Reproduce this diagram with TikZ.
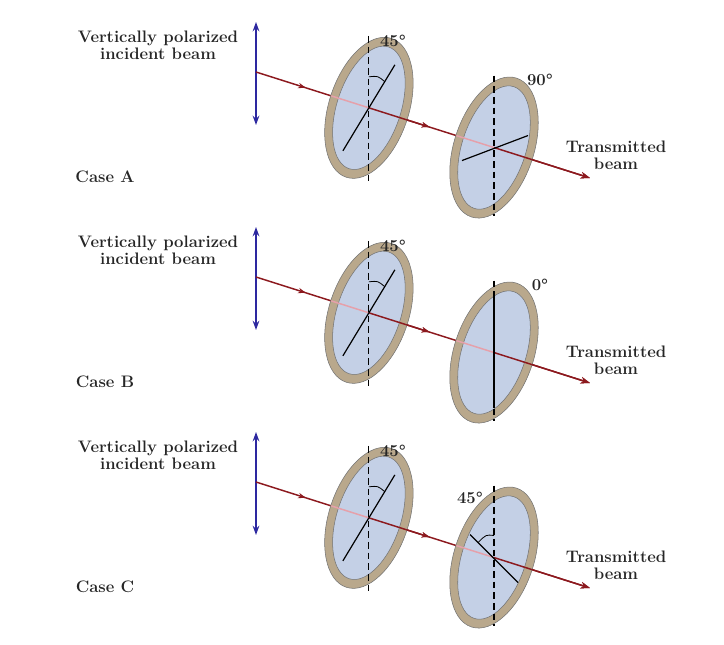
\documentclass[tikz,border=0pt]{standalone}
\usetikzlibrary{calc,arrows.meta,decorations.markings}
\begin{document}
\begin{tikzpicture}[x=0.75pt,y=-0.75pt,
label/.style={
% text of the figure
font=\fontsize{12.5}{13}\selectfont\bfseries,
text=black!85,
align=center,
inner sep=0pt
},
ray/.style={
draw={rgb,255:red,140;green,25;blue,30},
line width=1.1pt
},
beam/.style={
ray,
-{Stealth[length=7pt,width=5pt]},
postaction={decorate},
decoration={markings,
mark=at position 0.15 with {\arrow{Stealth[length=6pt,width=4pt]}},
mark=at position 0.52 with {\arrow{Stealth[length=6pt,width=4pt]}}}
},
seen/.style={draw={rgb,255:red,230;green,160;blue,170},line width=1.1pt},
ring/.style={fill={rgb,255:red,185;green,168;blue,140},draw=black!55,line width=0.4pt},
glass/.style={fill={rgb,255:red,196;green,208;blue,230},draw=black!55,line width=0.4pt},
axis/.style={draw=black,line width=0.9pt},
normal/.style={draw=black,line width=0.9pt,dash pattern=on 5pt off 3pt},
field/.style={draw={rgb,255:red,45;green,40;blue,160},line width=1.6pt,
{Stealth[length=7pt,width=5pt]}-{Stealth[length=7pt,width=5pt]}}
]
\useasboundingbox (0,0) rectangle (724,644);
\foreach \dy/\case/\ax/\ay/\bx/\by/\ang in {
0/A/34/-12/-32/13/90\textdegree,
205/B/0/-55/0/55/0\textdegree,
410/C/-24/-23/24/25/45\textdegree}{
\begin{scope}[yshift=-\dy*0.75pt]
% incident field and beam
\draw[field] (256,22) coordinate (top\case) -- (256,125) coordinate (bot\case);
\coordinate (start\case) at (256,72);
\coordinate (end\case) at (590,178);
\coordinate (p\case) at ($(start\case)!0.338!(end\case)$);
\coordinate (q\case) at ($(start\case)!0.7126!(end\case)$);
\draw[beam] (start\case) -- (end\case);
% polarizers
\foreach \c in {p\case,q\case}{
\path[ring] (\c) ellipse[x radius=40,y radius=73,rotate=-18];
\path[glass] (\c) ellipse[x radius=32,y radius=64,rotate=-18];
}
\draw[seen] ($(start\case)!0.225!(end\case)$) -- (p\case);
\draw[seen] ($(start\case)!0.60!(end\case)$) -- (q\case);
\draw[ray,-{Stealth[length=6pt,width=4pt]}] (p\case) -- ($(start\case)!0.52!(end\case)$);
\draw[ray,-{Stealth[length=7pt,width=5pt]}] (q\case) -- (end\case);
% transmission axes
\draw[axis] ($(p\case)+(26,-43)$) -- ($(p\case)+(-26,43)$);
\draw[line width=0.6pt] ($(p\case)+(0,-31)$) .. controls ($(p\case)+(9,-32)$) .. ($(p\case)+(16,-26)$);
\draw[axis] ($(q\case)+(\ax,\ay)$) -- ($(q\case)+(\bx,\by)$);
\draw[normal] ($(p\case)+(0,-72)$) -- ($(p\case)+(0,74)$);
\draw[normal] ($(q\case)+(0,-72)$) -- ($(q\case)+(0,68)$);
% labels
\node[label] (inc\case) at (158,45) {Vertically polarized\\incident beam};
\node[label] (first\case) at (393,41) {45\textdegree};
\node[label] (out\case) at (616,155) {Transmitted\\beam};
\node[label] (name\case) at (105,177) {Case \case};
\ifnum\dy=410
\draw[line width=0.6pt] ($(q\case)+(0,-22)$) .. controls ($(q\case)+(-8,-23)$) .. ($(q\case)+(-16,-15)$);
\node[label] (second\case) at (470,88) {\ang};
\else
\node[label] (second\case) at (540,80) {\ang};
\fi
\end{scope}
}
\end{tikzpicture}
\end{document}
